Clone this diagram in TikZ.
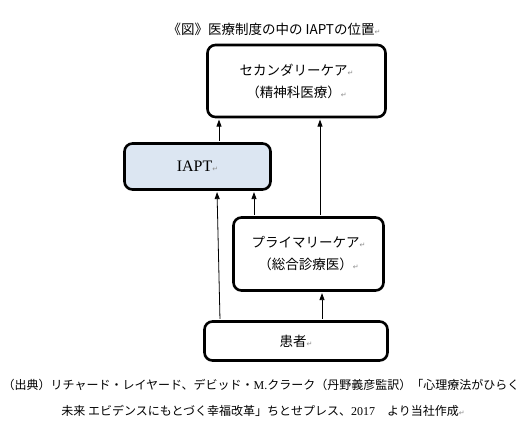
\documentclass[tikz,border=0pt]{standalone}
\usepackage{fontspec}
\setmainfont{Liberation Serif}
\newfontfamily\jp{Noto Sans CJK JP}
\newfontfamily\dvs{DejaVu Sans}
\usetikzlibrary{arrows.meta}
\definecolor{iaptblue}{HTML}{DCE6F2}
\newcommand\retm{{\dvs\color{black!45}\fontsize{7}{7}\selectfont ↵}}
\tikzset{
  boxnode/.style={draw=black, line width=2.6pt, rounded corners=8pt, align=center, inner sep=0pt},
  jptext/.style={font=\jp\fontsize{13.5}{22}\selectfont},
  conn/.style={line width=0.8pt, -{Triangle[length=7pt,width=5pt]}, shorten >=1.3pt, shorten <=1.3pt},
  foot/.style={font=\jp\fontsize{12}{14}\selectfont, inner sep=0pt}
}
\begin{document}
\begin{tikzpicture}[x=1pt,y=-1pt]
\useasboundingbox (0,0) rectangle (522,432);
\fill[white] (0,0) rectangle (522,432);
% title
\node[jptext, inner sep=0pt] (title) at (274,29) {《図》医療制度の中の IAPTの位置\retm};
% boxes
\node[boxnode, jptext, minimum width=178pt, minimum height=72pt] (sec) at (296.5,81)
  {セカンダリーケア\retm\\（精神科医療）\retm};
\node[boxnode, fill=iaptblue, minimum width=146pt, minimum height=46pt, font=\fontsize{16}{18}\selectfont] (iapt) at (197.5,166.5)
  {IAPT\retm};
\node[boxnode, jptext, minimum width=150pt, minimum height=73pt] (prim) at (308.5,254)
  {プライマリーケア\retm\\（総合診療医）\retm};
\node[boxnode, jptext, minimum width=183pt, minimum height=39pt] (pat) at (296,341)
  {患者\retm};
% x guides for connectors
\coordinate (xa) at (220,0);
\coordinate (xb) at (217,0);
\coordinate (xc) at (322,0);
\coordinate (xd) at (254,0);
\coordinate (xe) at (320,0);
\coordinate (xf) at (219,0);
% connectors
\draw[conn] (pat.north -| xa) -- (iapt.south -| xb);
\draw[conn] (pat.north -| xc) -- (prim.south -| xc);
\draw[conn] (prim.north -| xd) -- (iapt.south -| xd);
\draw[conn] (prim.north -| xe) -- (sec.south -| xe);
\draw[conn] (iapt.north -| xf) -- (sec.south -| xf);
% footnote
\node[foot] (foot1) at (261,385) {（出典）リチャード・レイヤード、デビッド・{\rmfamily M.}クラーク（丹野義彦監訳）「心理療法がひらく};
\node[foot] (foot2) at (263,411) {未来 エビデンスにもとづく幸福改革」ちとせプレス、{\rmfamily 2017}　より当社作成\retm};
\end{tikzpicture}
\end{document}
